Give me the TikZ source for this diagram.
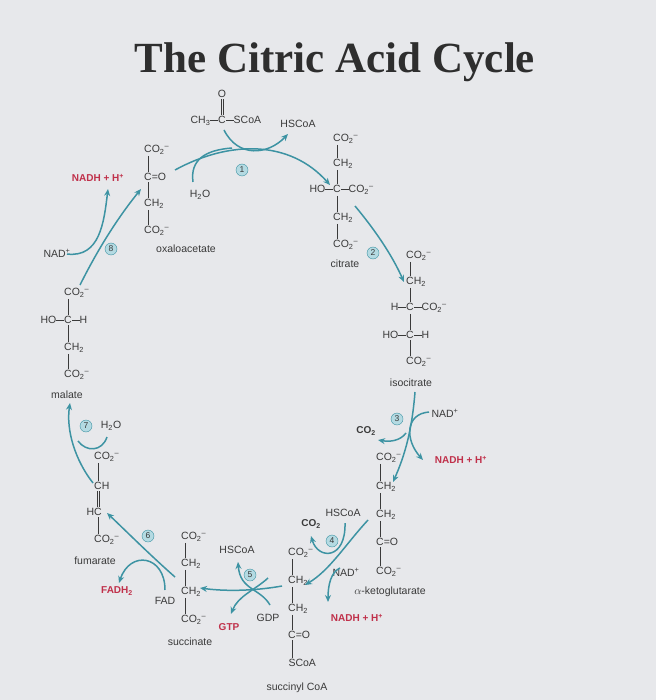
\documentclass[tikz,border=0pt]{standalone}
\usepackage{fontspec}
\setmainfont{Liberation Sans}
\newfontfamily\titlefont{Liberation Serif}
\usetikzlibrary{arrows.meta}
\definecolor{teal1}{HTML}{3D93A3}
\definecolor{tealfill}{HTML}{B4DAE2}
\definecolor{redl}{HTML}{C0304A}
\definecolor{bg}{HTML}{E7E8EB}
\definecolor{ink}{HTML}{3A3A3A}
\newcommand\mybond{\rule[0.33em]{0.75em}{0.5pt}}
\newcommand\myco{C\rlap{O\textsubscript{2}\textsuperscript{--}}}
\newcommand\mych{C\rlap{H\textsubscript{2}}}
\begin{document}
\begin{tikzpicture}[x=1pt,y=-1pt,
  m/.style={font=\fontsize{10.5}{12}\selectfont, text=ink, inner sep=1.2pt},
  lab/.style={font=\fontsize{10.5}{12}\selectfont, text=ink, inner sep=1pt},
  rl/.style={font=\bfseries\fontsize{10}{12}\selectfont, text=redl, inner sep=1pt},
  bd/.style={draw=ink, line width=0.5pt},
  ar/.style={draw=teal1, line width=1.5pt, -{Stealth[length=7pt,width=6pt]}},
  ln/.style={draw=teal1, line width=1.5pt},
  num/.style={circle, draw=teal1, fill=tealfill, inner sep=0pt, minimum size=12pt, font=\fontsize{8.5}{9}\selectfont, text=ink}]
\fill[bg] (0,0) rectangle (656,700);
\useasboundingbox (0,0) rectangle (656,700);
\node[font=\titlefont\bfseries\fontsize{43}{46}\selectfont, text=ink!80!black] (title) at (335,62) {The Citric Acid Cycle};
% acetyl CoA
\node[m] (acO) at (222,94) {O};
\node[m] (acC) at (222,121) {\llap{CH\textsubscript{3}\mybond}C\rlap{\mybond SCoA}};
\draw[bd] ([xshift=-1.2pt]acO.south) -- ([xshift=-1.2pt]acC.north);
\draw[bd] ([xshift=1.2pt]acO.south) -- ([xshift=1.2pt]acC.north);
\node[m] (hscoa1) at (298,124) {HSCoA};
% citrate
\node[m] (ci1) at (337,139) {\myco};
\node[m] (ci2) at (337,164) {\mych};
\node[m] (ci3) at (337,190) {\llap{HO\mybond}C\rlap{\mybond\myco}};
\node[m] (ci4) at (337,218) {\mych};
\node[m] (ci5) at (337,245) {\myco};
\foreach \a/\b in {ci1/ci2,ci2/ci3,ci3/ci4,ci4/ci5} \draw[bd] (\a) -- (\b);
\node[lab] (citrate) at (345,264) {citrate};
% oxaloacetate
\node[m] (ox1) at (148,150) {\myco};
\node[m] (ox2) at (148,177) {C\rlap{=O}};
\node[m] (ox3) at (148,204) {\mych};
\node[m] (ox4) at (148,231) {\myco};
\foreach \a/\b in {ox1/ox2,ox2/ox3,ox3/ox4} \draw[bd] (\a) -- (\b);
\node[lab] (oxal) at (186,249) {oxaloacetate};
\node[rl] (nadh8) at (98,178) {NADH + H\textsuperscript{+}};
\node[lab] (nad8) at (57,253) {NAD\textsuperscript{+}};
\node[lab] (h2o1) at (200,195) {H\textsubscript{2}O};
% isocitrate
\node[m] (is1) at (410,256) {\myco};
\node[m] (is2) at (410,282) {\mych};
\node[m] (is3) at (410,308) {\llap{H\mybond}C\rlap{\mybond\myco}};
\node[m] (is4) at (410,335) {\llap{HO\mybond}C\rlap{\mybond H}};
\node[m] (is5) at (410,362) {\myco};
\foreach \a/\b in {is1/is2,is2/is3,is3/is4,is4/is5} \draw[bd] (\a) -- (\b);
\node[lab] (isocit) at (411,383) {isocitrate};
% malate
\node[m] (ma1) at (68,293) {\myco};
\node[m] (ma2) at (68,320) {\llap{HO\mybond}C\rlap{\mybond H}};
\node[m] (ma3) at (68,348) {\mych};
\node[m] (ma4) at (68,375) {\myco};
\foreach \a/\b in {ma1/ma2,ma2/ma3,ma3/ma4} \draw[bd] (\a) -- (\b);
\node[lab] (malate) at (67,395) {malate};
% alpha-ketoglutarate
\node[m] (kg1) at (380,458) {\myco};
\node[m] (kg2) at (380,487) {\mych};
\node[m] (kg3) at (380,515) {\mych};
\node[m] (kg4) at (380,542) {C\rlap{=O}};
\node[m] (kg5) at (380,572) {\myco};
\foreach \a/\b in {kg1/kg2,kg2/kg3,kg3/kg4,kg4/kg5} \draw[bd] (\a) -- (\b);
\node[lab] (akg) at (390,592) {$\alpha$-ketoglutarate};
\node[lab] (nad3) at (445,413) {NAD\textsuperscript{+}};
\node[m, font=\bfseries\fontsize{10}{12}\selectfont] (co23) at (366,431) {CO\textsubscript{2}};
\node[rl] (nadh3) at (461,460) {NADH + H\textsuperscript{+}};
% step 4
\node[lab] (hscoa4) at (343,513) {HSCoA};
\node[m, font=\bfseries\fontsize{10}{12}\selectfont] (co24) at (311,524) {CO\textsubscript{2}};
\node[lab] (nad4) at (346,572) {NAD\textsuperscript{+}};
\node[rl] (nadh4) at (357,618) {NADH + H\textsuperscript{+}};
% succinyl CoA
\node[m] (sc1) at (292,553) {\myco};
\node[m] (sc2) at (292,581) {\mych};
\node[m] (sc3) at (292,609) {\mych};
\node[m] (sc4) at (292,635) {C\rlap{=O}};
\node[m] (sc5) at (292,663) {S\rlap{CoA}};
\foreach \a/\b in {sc1/sc2,sc2/sc3,sc3/sc4,sc4/sc5} \draw[bd] (\a) -- (\b);
\node[lab] (succoa) at (297,688) {succinyl CoA};
% step 5
\node[lab] (hscoa5) at (237,550) {HSCoA};
\node[lab] (gdp) at (268,618) {GDP};
\node[rl] (gtp) at (229,627) {GTP};
% succinate
\node[m] (su1) at (185,537) {\myco};
\node[m] (su2) at (185,564) {\mych};
\node[m] (su3) at (185,592) {\mych};
\node[m] (su4) at (185,620) {\myco};
\foreach \a/\b in {su1/su2,su2/su3,su3/su4} \draw[bd] (\a) -- (\b);
\node[lab] (succ) at (190,642) {succinate};
\node[lab] (fad) at (165,601) {FAD};
\node[rl] (fadh2) at (117,591) {FADH\textsubscript{2}};
% fumarate
\node[m] (fu1) at (98,457) {\myco};
\node[m] (fu2) at (98,486) {C\rlap{H}};
\node[m] (fu3) at (98,512) {\llap{H}C};
\node[m] (fu4) at (98,540) {\myco};
\draw[bd] (fu1) -- (fu2);
\draw[bd] ([xshift=-1.2pt]fu2.south) -- ([xshift=-1.2pt]fu3.north);
\draw[bd] ([xshift=1.2pt]fu2.south) -- ([xshift=1.2pt]fu3.north);
\draw[bd] (fu3) -- (fu4);
\node[lab] (fum) at (95,561) {fumarate};
\node[lab] (h2o7) at (111,426) {H\textsubscript{2}O};
% step numbers
\node[num] (n1) at (242,170) {1};
\node[num] (n2) at (373,253) {2};
\node[num] (n3) at (397,419) {3};
\node[num] (n4) at (332,541) {4};
\node[num] (n5) at (250,575) {5};
\node[num] (n6) at (148,536) {6};
\node[num] (n7) at (86,426) {7};
\node[num] (n8) at (111,249) {8};
% coordinates for arrows
\coordinate (p1a) at (175,170); \coordinate (p1b) at (330,185);
\coordinate (p2a) at (355,206); \coordinate (p2b) at (404,282);
\coordinate (p3a) at (415,392); \coordinate (p3b) at (393,482);
\coordinate (p4a) at (368,520); \coordinate (p4b) at (305,585);
\coordinate (p5a) at (282,586); \coordinate (p5b) at (200,588);
\coordinate (p6a) at (175,577); \coordinate (p6b) at (107,513);
\coordinate (p7a) at (93,483); \coordinate (p7b) at (70,403);
\coordinate (p8a) at (80,285); \coordinate (p8b) at (141,189);
% main arrows
\draw[ar] (p1a) .. controls (230,140) and (290,140) .. (p1b);
\draw[ar] (p2a) .. controls (375,230) and (392,255) .. (p2b);
\draw[ar] (p3a) .. controls (412,430) and (405,455) .. (p3b);
\draw[ar] (p4a) .. controls (345,545) and (330,570) .. (p4b);
\draw[ar] (p5a) .. controls (260,590) and (230,592) .. (p5b);
\draw[ar] (p6a) .. controls (150,555) and (125,530) .. (p6b);
\draw[ar] (p7a) .. controls (75,460) and (66,430) .. (p7b);
\draw[ar] (p8a) .. controls (100,245) and (120,215) .. (p8b);
% side arrows
\coordinate (s1a) at (224,130); \coordinate (s1b) at (288,134);
\draw[ar] (s1a) .. controls (238,158) and (268,155) .. (s1b);
\coordinate (s1c) at (193,182); \coordinate (s1d) at (232,148);
\draw[ln] (s1c) .. controls (190,160) and (205,150) .. (s1d);
\coordinate (s3a) at (429,412); \coordinate (s3b) at (423,460);
\draw[ar] (s3a) .. controls (405,414) and (405,440) .. (s3b);
\coordinate (s3c) at (406,433); \coordinate (s3d) at (378,440);
\draw[ar] (s3c) .. controls (400,441) and (390,442) .. (s3d);
\coordinate (s4a) at (345,523); \coordinate (s4b) at (311,536);
\draw[ar] (s4a) .. controls (346,560) and (318,560) .. (s4b);
\coordinate (s4c) at (340,568); \coordinate (s4d) at (328,602);
\draw[ar] (s4c) .. controls (331,572) and (328,585) .. (s4d);
\coordinate (s5a) at (268,578); \coordinate (s5b) at (231,614);
\draw[ar] (s5a) .. controls (255,590) and (238,596) .. (s5b);
\coordinate (s5c) at (270,605); \coordinate (s5d) at (238,562);
\draw[ar] (s5c) .. controls (260,588) and (240,590) .. (s5d);
\coordinate (s6a) at (165,590); \coordinate (s6b) at (119,583);
\draw[ar] (s6a) .. controls (165,555) and (130,550) .. (s6b);
\coordinate (s7a) at (107,437); \coordinate (s7b) at (78,441);
\draw[ln] (s7a) .. controls (102,452) and (86,452) .. (s7b);
\coordinate (s8a) at (67,254); \coordinate (s8b) at (108,189);
\draw[ar] (s8a) .. controls (100,258) and (104,222) .. (s8b);
\end{tikzpicture}
\end{document}
